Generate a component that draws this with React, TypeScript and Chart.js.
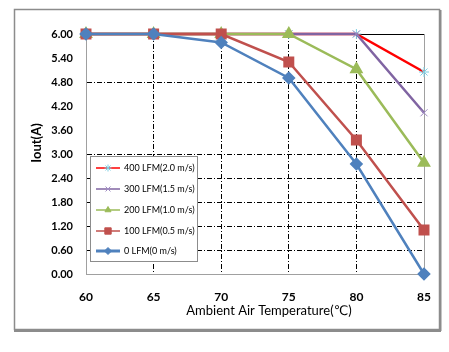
import React, { useEffect, useRef } from "react";
import { Chart, registerables } from "chart.js";
import { drawPoint } from "chart.js/helpers";

Chart.register(...registerables);

const temps = [60, 65, 70, 75, 80, 85];
const lfm0 = [6.0, 6.0, 5.79, 4.9, 2.75, 0.0];
const lfm100 = [6.0, 6.0, 6.0, 5.3, 3.35, 1.1];
const lfm200 = [6.0, 6.0, 6.0, 6.0, 5.12, 2.78];
const lfm300 = [6.0, 6.0, 6.0, 6.0, 6.0, 4.03];
const lfm400 = [6.0, 6.0, 6.0, 6.0, 6.0, 5.05];
const seriesLabels = [
  "400 LFM(2.0 m/s)",
  "300 LFM(1.5 m/s)",
  "200 LFM(1.0 m/s)",
  "100 LFM(0.5 m/s)",
  "0 LFM(0 m/s)",
];
const xTitle = "Ambient Air Temperature(\u2103)";
const yTitle = "Iout(A)";

const FONT = "Lato, 'DejaVu Sans', sans-serif";

const near = (a: number, b: number) => Math.abs(a - b) < 1e-6;

const pts = (arr: number[]) => arr.map((y, i) => ({ x: temps[i], y }));

const frame = {
  id: "frame",
  beforeDraw(chart: any) {
    const ctx = chart.ctx;
    ctx.save();
    ctx.fillStyle = "#fff";
    ctx.fillRect(0, 0, chart.width, chart.height);
    ctx.strokeStyle = "#8c8c8c";
    ctx.lineWidth = 1.5;
    ctx.strokeRect(14.5, 9.5, 425, 320);
    ctx.lineWidth = 2;
    ctx.beginPath();
    ctx.moveTo(14, 331);
    ctx.lineTo(441, 331);
    ctx.moveTo(440.5, 10);
    ctx.lineTo(440.5, 331);
    ctx.stroke();
    ctx.restore();
  },
  afterDraw(chart: any) {
    const ctx = chart.ctx;
    ctx.save();
    // axis titles
    ctx.fillStyle = "#000";
    ctx.font = `13px ${FONT}`;
    ctx.textAlign = "center";
    ctx.textBaseline = "middle";
    ctx.fillText(xTitle, 269, 311);
    ctx.save();
    ctx.translate(37, 143);
    ctx.rotate(-Math.PI / 2);
    ctx.font = `bold 13px ${FONT}`;
    ctx.fillText(yTitle, 0, 0);
    ctx.restore();

    // legend
    const bx = 90.5, by = 156.5, bw = 107, bh = 105;
    ctx.fillStyle = "#fff";
    ctx.fillRect(bx, by, bw, bh);
    ctx.strokeStyle = "#8c8c8c";
    ctx.lineWidth = 1;
    ctx.strokeRect(bx, by, bw, bh);
    const ys = [168, 189, 210, 231, 251];
    const dsCount = chart.data.datasets.length;
    for (let i = 0; i < dsCount; i++) {
      const ds: any = chart.data.datasets[dsCount - 1 - i];
      const y = ys[i];
      ctx.strokeStyle = ds.borderColor;
      ctx.lineWidth = ds.legendLineWidth;
      ctx.beginPath();
      ctx.moveTo(96, y);
      ctx.lineTo(120, y);
      ctx.stroke();
      ctx.fillStyle = ds.pointBackgroundColor;
      ctx.strokeStyle = ds.pointBorderColor;
      ctx.lineWidth = 1;
      drawPoint(ctx, { pointStyle: ds.pointStyle, rotation: 0, radius: ds.legendRadius, borderWidth: 1 }, 108, y);
      ctx.fillStyle = "#000";
      ctx.font = `9px ${FONT}`;
      ctx.textAlign = "left";
      ctx.textBaseline = "middle";
      ctx.fillText(ds.label, 124, y + 0.5);
    }
    ctx.restore();
  },
};

export default function App() {
  const ref = useRef<HTMLCanvasElement | null>(null);
  useEffect(() => {
    if (!ref.current) return;
    const chart = new Chart(ref.current, {
      type: "line",
      data: {
        datasets: [
          {
            label: seriesLabels[4],
            data: pts(lfm0),
            borderColor: "#4F81BD",
            pointBackgroundColor: "#4F81BD",
            pointBorderColor: "#4F81BD",
            pointStyle: "rectRot",
            pointRadius: 5,
            borderWidth: 2.5,
            legendLineWidth: 3,
            legendRadius: 3.5,
            order: 1,
          } as any,
          {
            label: seriesLabels[3],
            data: pts(lfm100),
            borderColor: "#C0504D",
            pointBackgroundColor: "#C0504D",
            pointBorderColor: "#C0504D",
            pointStyle: "rect",
            pointRadius: 6,
            borderWidth: 2.5,
            legendLineWidth: 1.5,
            legendRadius: 4.5,
            order: 2,
          } as any,
          {
            label: seriesLabels[2],
            data: pts(lfm200),
            borderColor: "#9BBB59",
            pointBackgroundColor: "#9BBB59",
            pointBorderColor: "#9BBB59",
            pointStyle: "triangle",
            pointRadius: 5.5,
            borderWidth: 2.5,
            legendLineWidth: 1.5,
            legendRadius: 3.5,
            order: 3,
          } as any,
          {
            label: seriesLabels[1],
            data: pts(lfm300),
            borderColor: "#8064A2",
            pointBackgroundColor: "#A08CC4",
            pointBorderColor: "#A08CC4",
            pointStyle: "crossRot",
            pointRadius: 5,
            pointBorderWidth: 1,
            borderWidth: 2.5,
            legendLineWidth: 1.5,
            legendRadius: 3.5,
            order: 4,
          } as any,
          {
            label: seriesLabels[0],
            data: pts(lfm400),
            borderColor: "#FF0000",
            pointBackgroundColor: "#4BACC6",
            pointBorderColor: "#7FCFE3",
            pointStyle: "star",
            pointRadius: 5,
            pointBorderWidth: 1,
            borderWidth: 2.5,
            legendLineWidth: 1.5,
            legendRadius: 3.5,
            order: 5,
          } as any,
        ],
      },
      options: {
        animation: false,
        responsive: false,
        devicePixelRatio: 1,
        layout: { padding: { left: 0, top: 34, right: 25, bottom: 0 } },
        plugins: { legend: { display: false }, tooltip: { enabled: false } },
        elements: { line: { tension: 0 } },
        datasets: { line: { clip: false } as any },
        scales: {
          x: {
            type: "linear",
            min: 60,
            max: 85,
            afterFit: (s: any) => {
              s.height = 78;
            },
            ticks: {
              stepSize: 5,
              padding: 16,
              color: "#000",
              font: { family: FONT, size: 12, weight: "bold" },
              maxRotation: 0,
            },
            grid: {
              drawTicks: false,
              lineWidth: 1,
              color: (c: any) => {
                const v = c.tick ? c.tick.value : 0;
                if (near(v, 60)) return "rgba(0,0,0,0)";
                if (near(v, 85)) return "#a0a0a0";
                return "#000";
              },
            },
            border: {
              display: true,
              color: "#a0a0a0",
              width: 1,
              dash: (c: any) => {
                const v = c.tick ? c.tick.value : 0;
                return near(v, 85) ? [] : [5, 2, 1, 2];
              },
            } as any,
          },
          y: {
            type: "linear",
            min: 0,
            max: 6,
            afterFit: (s: any) => {
              s.width = 86;
            },
            ticks: {
              stepSize: 0.6,
              padding: 13,
              color: "#000",
              font: { family: FONT, size: 11, weight: "bold" },
              callback: (v: any) => Number(v).toFixed(2),
            },
            grid: {
              drawTicks: false,
              lineWidth: 1,
              color: (c: any) => {
                const v = c.tick ? c.tick.value : 0;
                if (near(v, 0) || near(v, 5.4) || near(v, 4.2) || near(v, 3.6)) return "rgba(0,0,0,0)";
                return "#000";
              },
            },
            border: {
              display: true,
              color: "#a0a0a0",
              width: 1,
              dash: (c: any) => {
                const v = c.tick ? c.tick.value : 0;
                return near(v, 6) ? [] : [5, 2, 1, 2];
              },
            } as any,
          },
        },
      },
      plugins: [frame],
    });
    return () => chart.destroy();
  }, []);
  return (
    <div style={{ position: "fixed", left: 0, top: 0, width: 449, height: 352, background: "#fff" }}>
      <canvas ref={ref} width={449} height={352} style={{ display: "block", width: 449, height: 352 }} />
    </div>
  );
}
